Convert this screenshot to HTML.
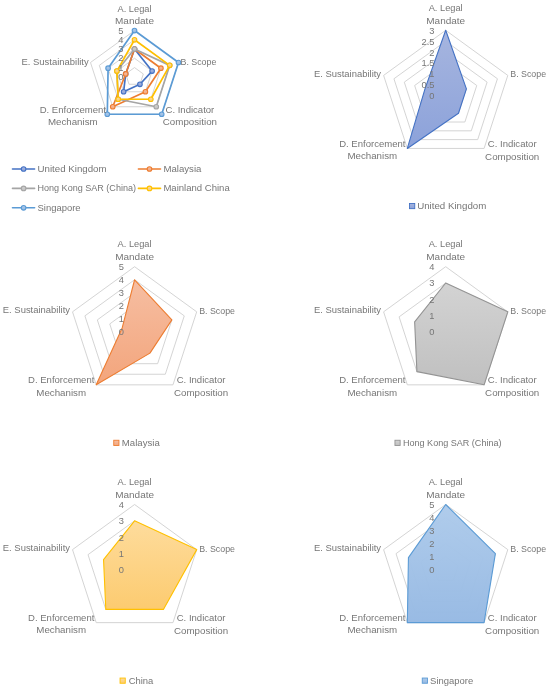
<!DOCTYPE html>
<html><head><meta charset="utf-8"><title>Radar charts</title>
<style>
html,body{margin:0;padding:0;background:#fff;}
svg{display:block;}
text{font-family:"Liberation Sans",sans-serif;font-size:9.3px;fill:#767676;}
.g{fill:none;stroke:#cfcfcf;stroke-width:0.9;}
</style></head><body>
<svg width="550" height="688" viewBox="0 0 550 688">
<defs>
<linearGradient id="f_uk" x1="0" y1="0" x2="0" y2="1"><stop offset="0" stop-color="#a6b5df"/><stop offset="1" stop-color="#8ca2da"/></linearGradient>
<linearGradient id="m_uk" x1="0" y1="0" x2="0" y2="1"><stop offset="0" stop-color="#a6b5df"/><stop offset="1" stop-color="#8ca2da"/></linearGradient>
<linearGradient id="f_my" x1="0" y1="0" x2="0" y2="1"><stop offset="0" stop-color="#f6bea2"/><stop offset="1" stop-color="#f3a57c"/></linearGradient>
<linearGradient id="m_my" x1="0" y1="0" x2="0" y2="1"><stop offset="0" stop-color="#f6bea2"/><stop offset="1" stop-color="#f3a57c"/></linearGradient>
<linearGradient id="f_hk" x1="0" y1="0" x2="0" y2="1"><stop offset="0" stop-color="#d3d3d3"/><stop offset="1" stop-color="#c0c0c0"/></linearGradient>
<linearGradient id="m_hk" x1="0" y1="0" x2="0" y2="1"><stop offset="0" stop-color="#d3d3d3"/><stop offset="1" stop-color="#c0c0c0"/></linearGradient>
<linearGradient id="f_cn" x1="0" y1="0" x2="0" y2="1"><stop offset="0" stop-color="#fedc9c"/><stop offset="1" stop-color="#fccb70"/></linearGradient>
<linearGradient id="m_cn" x1="0" y1="0" x2="0" y2="1"><stop offset="0" stop-color="#fedc9c"/><stop offset="1" stop-color="#fccb70"/></linearGradient>
<linearGradient id="f_sg" x1="0" y1="0" x2="0" y2="1"><stop offset="0" stop-color="#aecbeb"/><stop offset="1" stop-color="#96b9e3"/></linearGradient>
<linearGradient id="m_sg" x1="0" y1="0" x2="0" y2="1"><stop offset="0" stop-color="#aecbeb"/><stop offset="1" stop-color="#96b9e3"/></linearGradient>
</defs>
<rect width="550" height="688" fill="#fff"/>
<polygon class="g" points="134.50,67.55 143.30,73.94 139.94,84.29 129.06,84.29 125.70,73.94"/>
<polygon class="g" points="134.50,58.29 152.10,71.08 145.38,91.77 123.62,91.77 116.90,71.08"/>
<polygon class="g" points="134.50,49.04 160.90,68.22 150.82,99.26 118.18,99.26 108.10,68.22"/>
<polygon class="g" points="134.50,39.78 169.70,65.36 156.26,106.75 112.74,106.75 99.30,65.36"/>
<polygon class="g" points="134.50,30.53 178.51,62.50 161.70,114.23 107.30,114.23 90.49,62.50"/>
<polygon points="134.50,49.04 152.10,71.08 139.94,84.29 123.62,91.77 125.70,73.94" fill="none" stroke="#4472c4" stroke-width="1.7" stroke-linejoin="round"/>
<circle cx="134.50" cy="49.04" r="2.3" fill="url(#m_uk)" stroke="#4472c4" stroke-width="1.1"/>
<circle cx="152.10" cy="71.08" r="2.3" fill="url(#m_uk)" stroke="#4472c4" stroke-width="1.1"/>
<circle cx="139.94" cy="84.29" r="2.3" fill="url(#m_uk)" stroke="#4472c4" stroke-width="1.1"/>
<circle cx="123.62" cy="91.77" r="2.3" fill="url(#m_uk)" stroke="#4472c4" stroke-width="1.1"/>
<circle cx="125.70" cy="73.94" r="2.3" fill="url(#m_uk)" stroke="#4472c4" stroke-width="1.1"/>
<polygon points="134.50,49.04 160.90,68.22 145.38,91.77 112.74,106.75 125.70,73.94" fill="none" stroke="#ed7d31" stroke-width="1.7" stroke-linejoin="round"/>
<circle cx="134.50" cy="49.04" r="2.3" fill="url(#m_my)" stroke="#ed7d31" stroke-width="1.1"/>
<circle cx="160.90" cy="68.22" r="2.3" fill="url(#m_my)" stroke="#ed7d31" stroke-width="1.1"/>
<circle cx="145.38" cy="91.77" r="2.3" fill="url(#m_my)" stroke="#ed7d31" stroke-width="1.1"/>
<circle cx="112.74" cy="106.75" r="2.3" fill="url(#m_my)" stroke="#ed7d31" stroke-width="1.1"/>
<circle cx="125.70" cy="73.94" r="2.3" fill="url(#m_my)" stroke="#ed7d31" stroke-width="1.1"/>
<polygon points="134.50,49.04 169.70,65.36 156.26,106.75 118.18,99.26 116.90,71.08" fill="none" stroke="#a5a5a5" stroke-width="1.7" stroke-linejoin="round"/>
<circle cx="134.50" cy="49.04" r="2.3" fill="url(#m_hk)" stroke="#a5a5a5" stroke-width="1.1"/>
<circle cx="169.70" cy="65.36" r="2.3" fill="url(#m_hk)" stroke="#a5a5a5" stroke-width="1.1"/>
<circle cx="156.26" cy="106.75" r="2.3" fill="url(#m_hk)" stroke="#a5a5a5" stroke-width="1.1"/>
<circle cx="118.18" cy="99.26" r="2.3" fill="url(#m_hk)" stroke="#a5a5a5" stroke-width="1.1"/>
<circle cx="116.90" cy="71.08" r="2.3" fill="url(#m_hk)" stroke="#a5a5a5" stroke-width="1.1"/>
<polygon points="134.50,39.78 169.70,65.36 150.82,99.26 118.18,99.26 116.90,71.08" fill="none" stroke="#ffc000" stroke-width="1.7" stroke-linejoin="round"/>
<circle cx="134.50" cy="39.78" r="2.3" fill="url(#m_cn)" stroke="#ffc000" stroke-width="1.1"/>
<circle cx="169.70" cy="65.36" r="2.3" fill="url(#m_cn)" stroke="#ffc000" stroke-width="1.1"/>
<circle cx="150.82" cy="99.26" r="2.3" fill="url(#m_cn)" stroke="#ffc000" stroke-width="1.1"/>
<circle cx="118.18" cy="99.26" r="2.3" fill="url(#m_cn)" stroke="#ffc000" stroke-width="1.1"/>
<circle cx="116.90" cy="71.08" r="2.3" fill="url(#m_cn)" stroke="#ffc000" stroke-width="1.1"/>
<polygon points="134.50,30.53 178.51,62.50 161.70,114.23 107.30,114.23 108.10,68.22" fill="none" stroke="#5b9bd5" stroke-width="1.7" stroke-linejoin="round"/>
<circle cx="134.50" cy="30.53" r="2.3" fill="url(#m_sg)" stroke="#5b9bd5" stroke-width="1.1"/>
<circle cx="178.51" cy="62.50" r="2.3" fill="url(#m_sg)" stroke="#5b9bd5" stroke-width="1.1"/>
<circle cx="161.70" cy="114.23" r="2.3" fill="url(#m_sg)" stroke="#5b9bd5" stroke-width="1.1"/>
<circle cx="107.30" cy="114.23" r="2.3" fill="url(#m_sg)" stroke="#5b9bd5" stroke-width="1.1"/>
<circle cx="108.10" cy="68.22" r="2.3" fill="url(#m_sg)" stroke="#5b9bd5" stroke-width="1.1"/>
<text x="123.50" y="79.80" text-anchor="end">0</text>
<text x="123.50" y="70.55" text-anchor="end">1</text>
<text x="123.50" y="61.29" text-anchor="end">2</text>
<text x="123.50" y="52.04" text-anchor="end">3</text>
<text x="123.50" y="42.78" text-anchor="end">4</text>
<text x="123.50" y="33.53" text-anchor="end">5</text>
<text x="134.50" y="11.60" text-anchor="middle" textLength="34.0" lengthAdjust="spacingAndGlyphs">A. Legal</text>
<text x="134.50" y="23.80" text-anchor="middle" textLength="38.9" lengthAdjust="spacingAndGlyphs">Mandate</text>
<text x="180.50" y="64.50" text-anchor="start" textLength="35.8" lengthAdjust="spacingAndGlyphs">B. Scope</text>
<text x="189.90" y="112.70" text-anchor="middle" textLength="48.8" lengthAdjust="spacingAndGlyphs">C. Indicator</text>
<text x="189.90" y="125.00" text-anchor="middle" textLength="54.2" lengthAdjust="spacingAndGlyphs">Composition</text>
<text x="72.80" y="112.70" text-anchor="middle" textLength="66.3" lengthAdjust="spacingAndGlyphs">D. Enforcement</text>
<text x="72.80" y="125.00" text-anchor="middle" textLength="49.8" lengthAdjust="spacingAndGlyphs">Mechanism</text>
<text x="88.70" y="64.50" text-anchor="end" textLength="67.2" lengthAdjust="spacingAndGlyphs">E. Sustainability</text>
<line x1="12.5" y1="169.0" x2="34.6" y2="169.0" stroke="#4472c4" stroke-width="1.6" stroke-linecap="round"/>
<circle cx="23.60" cy="169.00" r="2.3" fill="url(#m_uk)" stroke="#4472c4" stroke-width="1.1"/>
<text x="37.50" y="172.00" text-anchor="start" textLength="69.1" lengthAdjust="spacingAndGlyphs">United Kingdom</text>
<line x1="138.4" y1="169.0" x2="160.5" y2="169.0" stroke="#ed7d31" stroke-width="1.6" stroke-linecap="round"/>
<circle cx="149.50" cy="169.00" r="2.3" fill="url(#m_my)" stroke="#ed7d31" stroke-width="1.1"/>
<text x="163.40" y="172.00" text-anchor="start" textLength="38.0" lengthAdjust="spacingAndGlyphs">Malaysia</text>
<line x1="12.5" y1="188.4" x2="34.6" y2="188.4" stroke="#a5a5a5" stroke-width="1.6" stroke-linecap="round"/>
<circle cx="23.60" cy="188.40" r="2.3" fill="url(#m_hk)" stroke="#a5a5a5" stroke-width="1.1"/>
<text x="37.50" y="191.40" text-anchor="start" textLength="98.5" lengthAdjust="spacingAndGlyphs">Hong Kong SAR (China)</text>
<line x1="138.4" y1="188.4" x2="160.5" y2="188.4" stroke="#ffc000" stroke-width="1.6" stroke-linecap="round"/>
<circle cx="149.50" cy="188.40" r="2.3" fill="url(#m_cn)" stroke="#ffc000" stroke-width="1.1"/>
<text x="163.40" y="191.40" text-anchor="start" textLength="66.3" lengthAdjust="spacingAndGlyphs">Mainland China</text>
<line x1="12.5" y1="207.8" x2="34.6" y2="207.8" stroke="#5b9bd5" stroke-width="1.6" stroke-linecap="round"/>
<circle cx="23.60" cy="207.80" r="2.3" fill="url(#m_sg)" stroke="#5b9bd5" stroke-width="1.1"/>
<text x="37.50" y="210.80" text-anchor="start" textLength="43.1" lengthAdjust="spacingAndGlyphs">Singapore</text>
<polygon class="g" points="445.70,84.72 456.05,92.24 452.10,104.40 439.30,104.40 435.35,92.24"/>
<polygon class="g" points="445.70,73.83 466.40,88.87 458.49,113.21 432.91,113.21 425.00,88.87"/>
<polygon class="g" points="445.70,62.95 476.75,85.51 464.89,122.01 426.51,122.01 414.65,85.51"/>
<polygon class="g" points="445.70,52.07 487.10,82.15 471.29,130.82 420.11,130.82 404.30,82.15"/>
<polygon class="g" points="445.70,41.18 497.45,78.78 477.69,139.62 413.71,139.62 393.95,78.78"/>
<polygon class="g" points="445.70,30.30 507.80,75.42 484.08,148.43 407.32,148.43 383.60,75.42"/>
<polygon points="445.70,30.30 466.40,88.87 458.49,113.21 407.32,148.43 425.00,88.87" fill="url(#f_uk)" fill-opacity="1" stroke="#4472c4" stroke-width="1.1" stroke-linejoin="round"/>
<text x="434.50" y="99.05" text-anchor="end">0</text>
<text x="434.50" y="88.17" text-anchor="end">0.5</text>
<text x="434.50" y="77.28" text-anchor="end">1</text>
<text x="434.50" y="66.40" text-anchor="end">1.5</text>
<text x="434.50" y="55.52" text-anchor="end">2</text>
<text x="434.50" y="44.63" text-anchor="end">2.5</text>
<text x="434.50" y="33.75" text-anchor="end">3</text>
<text x="445.70" y="10.90" text-anchor="middle" textLength="34.0" lengthAdjust="spacingAndGlyphs">A. Legal</text>
<text x="445.70" y="23.80" text-anchor="middle" textLength="38.9" lengthAdjust="spacingAndGlyphs">Mandate</text>
<text x="510.30" y="77.40" text-anchor="start" textLength="35.8" lengthAdjust="spacingAndGlyphs">B. Scope</text>
<text x="512.20" y="146.80" text-anchor="middle" textLength="48.8" lengthAdjust="spacingAndGlyphs">C. Indicator</text>
<text x="512.20" y="159.50" text-anchor="middle" textLength="54.2" lengthAdjust="spacingAndGlyphs">Composition</text>
<text x="372.30" y="146.70" text-anchor="middle" textLength="66.3" lengthAdjust="spacingAndGlyphs">D. Enforcement</text>
<text x="372.30" y="159.10" text-anchor="middle" textLength="49.8" lengthAdjust="spacingAndGlyphs">Mechanism</text>
<text x="381.10" y="77.00" text-anchor="end" textLength="67.2" lengthAdjust="spacingAndGlyphs">E. Sustainability</text>
<rect x="409.55" y="203.45" width="5.2" height="5.2" fill="url(#f_uk)" stroke="#4472c4" stroke-width="0.9"/>
<text x="417.20" y="209.20" text-anchor="start" textLength="69.1" lengthAdjust="spacingAndGlyphs">United Kingdom</text>
<polygon class="g" points="134.60,318.94 147.02,327.96 142.28,342.57 126.92,342.57 122.18,327.96"/>
<polygon class="g" points="134.60,305.88 159.44,323.93 149.95,353.13 119.25,353.13 109.76,323.93"/>
<polygon class="g" points="134.60,292.82 171.86,319.89 157.63,363.70 111.57,363.70 97.34,319.89"/>
<polygon class="g" points="134.60,279.76 184.28,315.86 165.31,374.26 103.89,374.26 84.92,315.86"/>
<polygon class="g" points="134.60,266.70 196.70,311.82 172.98,384.83 96.22,384.83 72.50,311.82"/>
<polygon points="134.60,279.76 171.86,319.89 149.95,353.13 96.22,384.83 122.18,327.96" fill="url(#f_my)" fill-opacity="1" stroke="#ed7d31" stroke-width="1.1" stroke-linejoin="round"/>
<text x="123.80" y="335.45" text-anchor="end">0</text>
<text x="123.80" y="322.39" text-anchor="end">1</text>
<text x="123.80" y="309.33" text-anchor="end">2</text>
<text x="123.80" y="296.27" text-anchor="end">3</text>
<text x="123.80" y="283.21" text-anchor="end">4</text>
<text x="123.80" y="270.15" text-anchor="end">5</text>
<text x="134.60" y="247.30" text-anchor="middle" textLength="34.0" lengthAdjust="spacingAndGlyphs">A. Legal</text>
<text x="134.60" y="260.20" text-anchor="middle" textLength="38.9" lengthAdjust="spacingAndGlyphs">Mandate</text>
<text x="199.20" y="313.80" text-anchor="start" textLength="35.8" lengthAdjust="spacingAndGlyphs">B. Scope</text>
<text x="201.10" y="383.20" text-anchor="middle" textLength="48.8" lengthAdjust="spacingAndGlyphs">C. Indicator</text>
<text x="201.10" y="395.90" text-anchor="middle" textLength="54.2" lengthAdjust="spacingAndGlyphs">Composition</text>
<text x="61.20" y="383.10" text-anchor="middle" textLength="66.3" lengthAdjust="spacingAndGlyphs">D. Enforcement</text>
<text x="61.20" y="395.50" text-anchor="middle" textLength="49.8" lengthAdjust="spacingAndGlyphs">Mechanism</text>
<text x="70.00" y="313.40" text-anchor="end" textLength="67.2" lengthAdjust="spacingAndGlyphs">E. Sustainability</text>
<rect x="113.75" y="440.25" width="5.2" height="5.2" fill="url(#f_my)" stroke="#ed7d31" stroke-width="0.9"/>
<text x="121.80" y="446.00" text-anchor="start" textLength="38.0" lengthAdjust="spacingAndGlyphs">Malaysia</text>
<polygon class="g" points="445.70,315.68 461.23,326.96 455.30,345.21 436.10,345.21 430.17,326.96"/>
<polygon class="g" points="445.70,299.35 476.75,321.91 464.89,358.41 426.51,358.41 414.65,321.91"/>
<polygon class="g" points="445.70,283.02 492.28,316.87 474.49,371.62 416.91,371.62 399.12,316.87"/>
<polygon class="g" points="445.70,266.70 507.80,311.82 484.08,384.83 407.32,384.83 383.60,311.82"/>
<polygon points="445.70,283.02 507.80,311.82 484.08,384.83 416.91,371.62 414.65,321.91" fill="url(#f_hk)" fill-opacity="1" stroke="#939393" stroke-width="1.1" stroke-linejoin="round"/>
<text x="434.50" y="335.45" text-anchor="end">0</text>
<text x="434.50" y="319.12" text-anchor="end">1</text>
<text x="434.50" y="302.80" text-anchor="end">2</text>
<text x="434.50" y="286.47" text-anchor="end">3</text>
<text x="434.50" y="270.15" text-anchor="end">4</text>
<text x="445.70" y="247.30" text-anchor="middle" textLength="34.0" lengthAdjust="spacingAndGlyphs">A. Legal</text>
<text x="445.70" y="260.20" text-anchor="middle" textLength="38.9" lengthAdjust="spacingAndGlyphs">Mandate</text>
<text x="510.30" y="313.80" text-anchor="start" textLength="35.8" lengthAdjust="spacingAndGlyphs">B. Scope</text>
<text x="512.20" y="383.20" text-anchor="middle" textLength="48.8" lengthAdjust="spacingAndGlyphs">C. Indicator</text>
<text x="512.20" y="395.90" text-anchor="middle" textLength="54.2" lengthAdjust="spacingAndGlyphs">Composition</text>
<text x="372.30" y="383.10" text-anchor="middle" textLength="66.3" lengthAdjust="spacingAndGlyphs">D. Enforcement</text>
<text x="372.30" y="395.50" text-anchor="middle" textLength="49.8" lengthAdjust="spacingAndGlyphs">Mechanism</text>
<text x="381.10" y="313.40" text-anchor="end" textLength="67.2" lengthAdjust="spacingAndGlyphs">E. Sustainability</text>
<rect x="394.95" y="440.25" width="5.2" height="5.2" fill="url(#f_hk)" stroke="#939393" stroke-width="0.9"/>
<text x="403.00" y="446.00" text-anchor="start" textLength="98.5" lengthAdjust="spacingAndGlyphs">Hong Kong SAR (China)</text>
<polygon class="g" points="134.60,553.47 150.13,564.76 144.20,583.01 125.00,583.01 119.07,564.76"/>
<polygon class="g" points="134.60,537.15 165.65,559.71 153.79,596.21 115.41,596.21 103.55,559.71"/>
<polygon class="g" points="134.60,520.82 181.18,554.67 163.39,609.42 105.81,609.42 88.02,554.67"/>
<polygon class="g" points="134.60,504.50 196.70,549.62 172.98,622.63 96.22,622.63 72.50,549.62"/>
<polygon points="134.60,520.82 196.70,549.62 163.39,609.42 105.81,609.42 103.55,559.71" fill="url(#f_cn)" fill-opacity="1" stroke="#ffc000" stroke-width="1.1" stroke-linejoin="round"/>
<text x="123.80" y="573.25" text-anchor="end">0</text>
<text x="123.80" y="556.92" text-anchor="end">1</text>
<text x="123.80" y="540.60" text-anchor="end">2</text>
<text x="123.80" y="524.27" text-anchor="end">3</text>
<text x="123.80" y="507.95" text-anchor="end">4</text>
<text x="134.60" y="485.10" text-anchor="middle" textLength="34.0" lengthAdjust="spacingAndGlyphs">A. Legal</text>
<text x="134.60" y="498.00" text-anchor="middle" textLength="38.9" lengthAdjust="spacingAndGlyphs">Mandate</text>
<text x="199.20" y="551.60" text-anchor="start" textLength="35.8" lengthAdjust="spacingAndGlyphs">B. Scope</text>
<text x="201.10" y="621.00" text-anchor="middle" textLength="48.8" lengthAdjust="spacingAndGlyphs">C. Indicator</text>
<text x="201.10" y="633.70" text-anchor="middle" textLength="54.2" lengthAdjust="spacingAndGlyphs">Composition</text>
<text x="61.20" y="620.90" text-anchor="middle" textLength="66.3" lengthAdjust="spacingAndGlyphs">D. Enforcement</text>
<text x="61.20" y="633.30" text-anchor="middle" textLength="49.8" lengthAdjust="spacingAndGlyphs">Mechanism</text>
<text x="70.00" y="551.20" text-anchor="end" textLength="67.2" lengthAdjust="spacingAndGlyphs">E. Sustainability</text>
<rect x="120.05" y="678.05" width="5.2" height="5.2" fill="url(#f_cn)" stroke="#ffc000" stroke-width="0.9"/>
<text x="128.70" y="683.80" text-anchor="start" textLength="24.7" lengthAdjust="spacingAndGlyphs">China</text>
<polygon class="g" points="445.70,556.74 458.12,565.76 453.38,580.37 438.02,580.37 433.28,565.76"/>
<polygon class="g" points="445.70,543.68 470.54,561.73 461.05,590.93 430.35,590.93 420.86,561.73"/>
<polygon class="g" points="445.70,530.62 482.96,557.69 468.73,601.50 422.67,601.50 408.44,557.69"/>
<polygon class="g" points="445.70,517.56 495.38,553.66 476.41,612.06 414.99,612.06 396.02,553.66"/>
<polygon class="g" points="445.70,504.50 507.80,549.62 484.08,622.63 407.32,622.63 383.60,549.62"/>
<polygon points="445.70,504.50 495.38,553.66 484.08,622.63 407.32,622.63 408.44,557.69" fill="url(#f_sg)" fill-opacity="0.975" stroke="#5b9bd5" stroke-width="1.1" stroke-linejoin="round"/>
<text x="434.50" y="573.25" text-anchor="end">0</text>
<text x="434.50" y="560.19" text-anchor="end">1</text>
<text x="434.50" y="547.13" text-anchor="end">2</text>
<text x="434.50" y="534.07" text-anchor="end">3</text>
<text x="434.50" y="521.01" text-anchor="end">4</text>
<text x="434.50" y="507.95" text-anchor="end">5</text>
<text x="445.70" y="485.10" text-anchor="middle" textLength="34.0" lengthAdjust="spacingAndGlyphs">A. Legal</text>
<text x="445.70" y="498.00" text-anchor="middle" textLength="38.9" lengthAdjust="spacingAndGlyphs">Mandate</text>
<text x="510.30" y="551.60" text-anchor="start" textLength="35.8" lengthAdjust="spacingAndGlyphs">B. Scope</text>
<text x="512.20" y="621.00" text-anchor="middle" textLength="48.8" lengthAdjust="spacingAndGlyphs">C. Indicator</text>
<text x="512.20" y="633.70" text-anchor="middle" textLength="54.2" lengthAdjust="spacingAndGlyphs">Composition</text>
<text x="372.30" y="620.90" text-anchor="middle" textLength="66.3" lengthAdjust="spacingAndGlyphs">D. Enforcement</text>
<text x="372.30" y="633.30" text-anchor="middle" textLength="49.8" lengthAdjust="spacingAndGlyphs">Mechanism</text>
<text x="381.10" y="551.20" text-anchor="end" textLength="67.2" lengthAdjust="spacingAndGlyphs">E. Sustainability</text>
<rect x="422.25" y="678.05" width="5.2" height="5.2" fill="url(#f_sg)" stroke="#5b9bd5" stroke-width="0.9"/>
<text x="430.10" y="683.80" text-anchor="start" textLength="43.1" lengthAdjust="spacingAndGlyphs">Singapore</text>
</svg>
</body></html>
